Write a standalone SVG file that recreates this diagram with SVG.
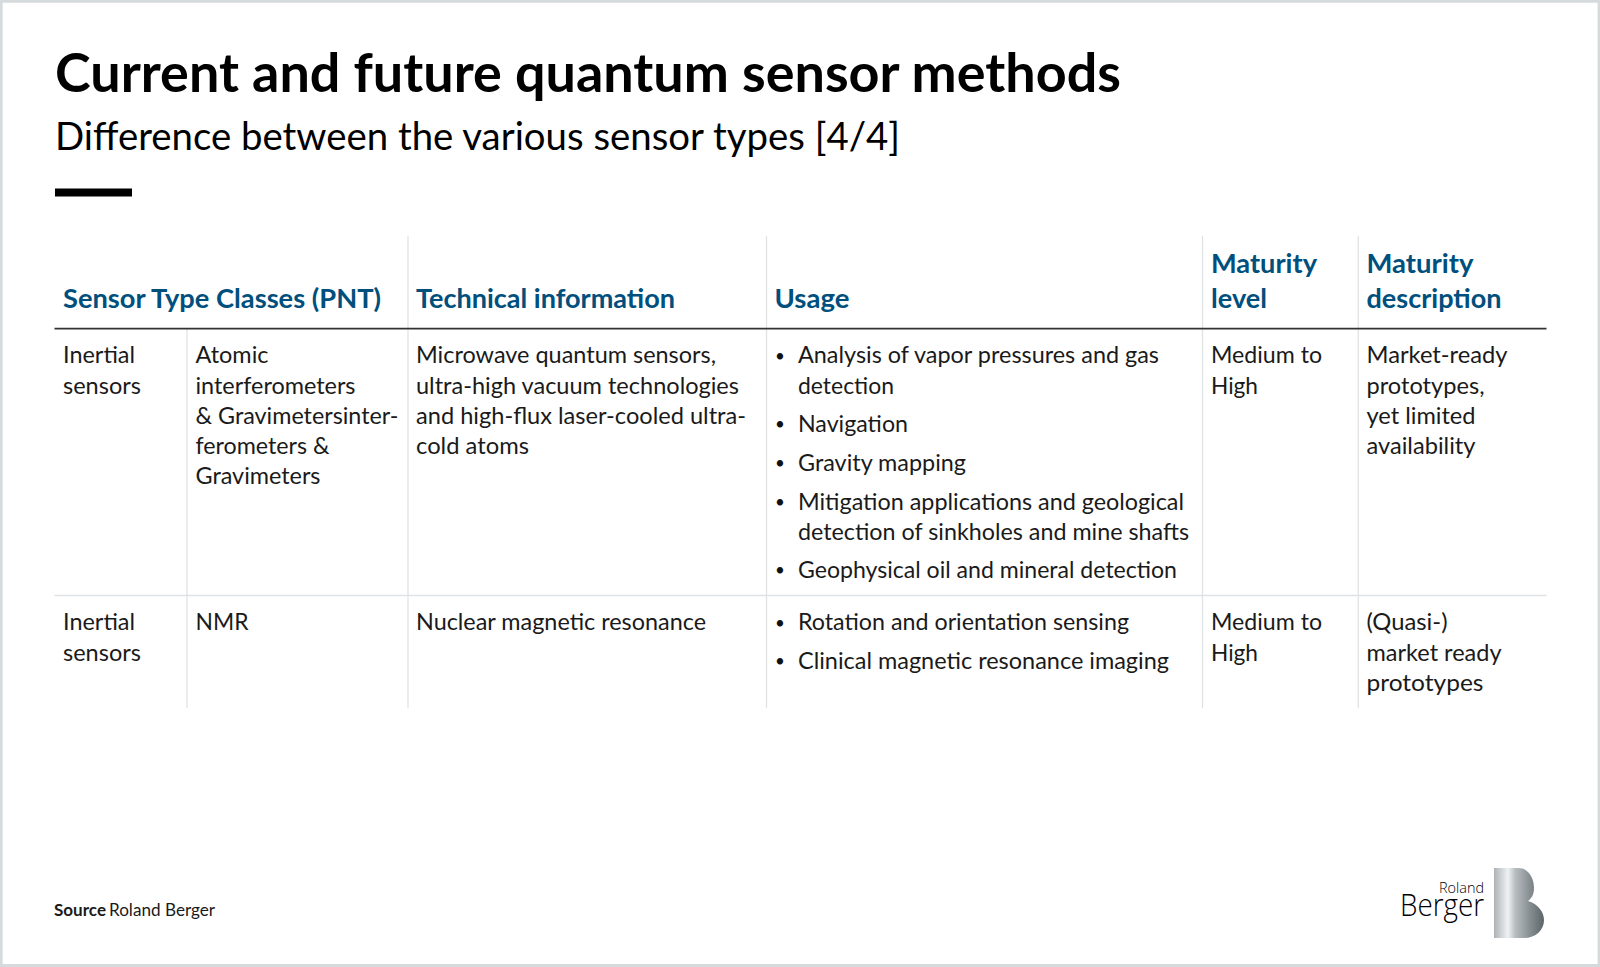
<svg xmlns="http://www.w3.org/2000/svg" width="1600" height="967" viewBox="0 0 1600 967">
<style>
text{font-family:Lato,"Liberation Sans",sans-serif;fill:#1a1a1a}
.b{font-size:24px}
.d{font-size:17px;fill:#111}
.h{font-size:27px;font-weight:700;fill:#004f7c}
.v{stroke:#e0e3e5;stroke-width:1.300;fill:none}
.l{font-family:"Open Sans",sans-serif;fill:#000;font-weight:300}
</style>
<defs><linearGradient id="bg" x1="0" x2="1" y1="0" y2="0">
<stop offset="0" stop-color="#aeb2b5"/><stop offset=".28" stop-color="#eef2f4"/><stop offset=".42" stop-color="#b9bec1"/><stop offset=".7" stop-color="#8a9195"/><stop offset="1" stop-color="#5c656a"/></linearGradient></defs>
<rect width="1600" height="967" fill="#fff"/>
<path d="M1.250 1.250H1599V965.500H1.250Z" fill="none" stroke="#d5dadd" stroke-width="2.800"/>
<g id="heading">
<text x="55" y="92" font-size="54" font-weight="700" style="fill:#000" textLength="1066" lengthAdjust="spacingAndGlyphs">Current and future quantum sensor methods</text>
<text x="55" y="150" font-size="38" style="fill:#000" textLength="845" lengthAdjust="spacingAndGlyphs">Difference between the various sensor types [4/4]</text>
<rect x="55" y="188.500" width="77" height="8" fill="#000"/>
</g>
<g id="connectors">
<path class="v" d="M408 236V708M766.500 236V708M1202.500 236V708M1358.300 236V708M187 329V708"/>
<path class="v" d="M54.500 595.500H1546.500"/>
<path d="M54.500 328.700H1546.500" stroke="#333" stroke-width="1.800" fill="none"/>
</g>
<g id="header">
<text class="h" x="63" y="308" textLength="318" lengthAdjust="spacingAndGlyphs">Sensor Type Classes (PNT)</text>
<text class="h" x="416" y="308" textLength="259" lengthAdjust="spacingAndGlyphs">Technical information</text>
<text class="h" x="774.500" y="308" textLength="75" lengthAdjust="spacingAndGlyphs">Usage</text>
<text class="h" x="1211" y="273" textLength="106" lengthAdjust="spacingAndGlyphs">Maturity</text>
<text class="h" x="1211" y="308" textLength="56" lengthAdjust="spacingAndGlyphs">level</text>
<text class="h" x="1366.500" y="273" textLength="107" lengthAdjust="spacingAndGlyphs">Maturity</text>
<text class="h" x="1366.500" y="308" textLength="135" lengthAdjust="spacingAndGlyphs">description</text>
</g>
<g id="row1">
<text class="b" x="63" y="363" textLength="72" lengthAdjust="spacingAndGlyphs">Inertial</text>
<text class="b" x="63" y="393.500" textLength="78" lengthAdjust="spacingAndGlyphs">sensors</text>
<text class="b" x="195.500" y="363" textLength="73" lengthAdjust="spacingAndGlyphs">Atomic</text>
<text class="b" x="195.500" y="393.500" textLength="160" lengthAdjust="spacingAndGlyphs">interferometers</text>
<text class="b" x="195.500" y="424" textLength="203" lengthAdjust="spacingAndGlyphs">&amp; Gravimetersinter-</text>
<text class="b" x="195.500" y="454" textLength="134" lengthAdjust="spacingAndGlyphs">ferometers &amp;</text>
<text class="b" x="195.500" y="484" textLength="125" lengthAdjust="spacingAndGlyphs">Gravimeters</text>
<text class="b" x="416" y="363" textLength="300" lengthAdjust="spacingAndGlyphs">Microwave quantum sensors,</text>
<text class="b" x="416" y="393.500" textLength="323" lengthAdjust="spacingAndGlyphs">ultra-high vacuum technologies</text>
<text class="b" x="416" y="424" textLength="330" lengthAdjust="spacingAndGlyphs">and high-flux laser-cooled ultra-</text>
<text class="b" x="416" y="454" textLength="113" lengthAdjust="spacingAndGlyphs">cold atoms</text>
<g id="usage1">
<text class="d" x="775" y="361.700">•</text>
<text class="b" x="798" y="363" textLength="361" lengthAdjust="spacingAndGlyphs">Analysis of vapor pressures and gas</text>
<text class="b" x="798" y="393.500" textLength="96" lengthAdjust="spacingAndGlyphs">detection</text>
<text class="d" x="775" y="430">•</text>
<text class="b" x="798" y="432" textLength="110" lengthAdjust="spacingAndGlyphs">Navigation</text>
<text class="d" x="775" y="469">•</text>
<text class="b" x="798" y="471" textLength="168" lengthAdjust="spacingAndGlyphs">Gravity mapping</text>
<text class="d" x="775" y="508">•</text>
<text class="b" x="798" y="510" textLength="386" lengthAdjust="spacingAndGlyphs">Mitigation applications and geological</text>
<text class="b" x="798" y="540" textLength="391" lengthAdjust="spacingAndGlyphs">detection of sinkholes and mine shafts</text>
<text class="d" x="775" y="576">•</text>
<text class="b" x="798" y="578" textLength="379" lengthAdjust="spacingAndGlyphs">Geophysical oil and mineral detection</text>
</g>
<text class="b" x="1211" y="363" textLength="111" lengthAdjust="spacingAndGlyphs">Medium to</text>
<text class="b" x="1211" y="393.500" textLength="47" lengthAdjust="spacingAndGlyphs">High</text>
<text class="b" x="1366.500" y="363" textLength="141" lengthAdjust="spacingAndGlyphs">Market-ready</text>
<text class="b" x="1366.500" y="393.500" textLength="118" lengthAdjust="spacingAndGlyphs">prototypes,</text>
<text class="b" x="1366.500" y="424" textLength="109" lengthAdjust="spacingAndGlyphs">yet limited</text>
<text class="b" x="1366.500" y="454" textLength="109" lengthAdjust="spacingAndGlyphs">availability</text>
</g>
<g id="row2">
<text class="b" x="63" y="630" textLength="72" lengthAdjust="spacingAndGlyphs">Inertial</text>
<text class="b" x="63" y="660.500" textLength="78" lengthAdjust="spacingAndGlyphs">sensors</text>
<text class="b" x="195.500" y="630" textLength="53" lengthAdjust="spacingAndGlyphs">NMR</text>
<text class="b" x="416" y="630" textLength="290" lengthAdjust="spacingAndGlyphs">Nuclear magnetic resonance</text>
<text class="d" x="775" y="628.700">•</text>
<text class="b" x="798" y="630" textLength="331" lengthAdjust="spacingAndGlyphs">Rotation and orientation sensing</text>
<text class="d" x="775" y="667">•</text>
<text class="b" x="798" y="669" textLength="371" lengthAdjust="spacingAndGlyphs">Clinical magnetic resonance imaging</text>
<text class="b" x="1211" y="630" textLength="111" lengthAdjust="spacingAndGlyphs">Medium to</text>
<text class="b" x="1211" y="660.500" textLength="47" lengthAdjust="spacingAndGlyphs">High</text>
<text class="b" x="1366.500" y="630" textLength="81" lengthAdjust="spacingAndGlyphs">(Quasi-)</text>
<text class="b" x="1366.500" y="660.500" textLength="135" lengthAdjust="spacingAndGlyphs">market ready</text>
<text class="b" x="1366.500" y="691" textLength="117" lengthAdjust="spacingAndGlyphs">prototypes</text>
</g>
<g id="source">
<text x="54" y="916" font-size="17" font-weight="700" textLength="52" lengthAdjust="spacingAndGlyphs">Source</text>
<text x="109" y="916" font-size="17" textLength="106" lengthAdjust="spacingAndGlyphs">Roland Berger</text>
</g>
<g id="logo">
<text class="l" x="1484" y="893" font-size="15" text-anchor="end" textLength="45" lengthAdjust="spacingAndGlyphs">Roland</text>
<text class="l" x="1484" y="916" font-size="31" text-anchor="end" textLength="84" lengthAdjust="spacingAndGlyphs">Berger</text>
<path d="M1494 868H1518C1530 868 1534 880 1534 888C1534 895 1531 899 1528 901C1538 904 1544 912 1544 920C1544 930 1536 938 1524 938H1494Z" fill="url(#bg)"/>
</g>
</svg>
